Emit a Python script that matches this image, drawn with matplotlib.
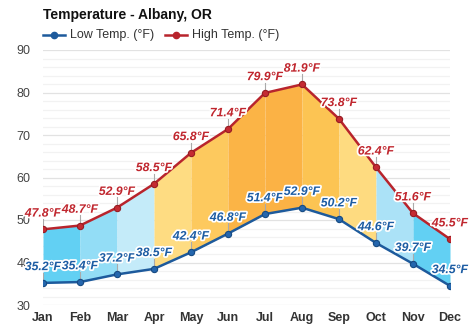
import matplotlib
matplotlib.use("Agg")
import matplotlib.pyplot as plt
import matplotlib.patheffects as pe
import numpy as np

months = ["Jan", "Feb", "Mar", "Apr", "May", "Jun", "Jul", "Aug", "Sep", "Oct", "Nov", "Dec"]
high = [47.8, 48.7, 52.9, 58.5, 65.8, 71.4, 79.9, 81.9, 73.8, 62.4, 51.6, 45.5]
low = [35.2, 35.4, 37.2, 38.5, 42.4, 46.8, 51.4, 52.9, 50.2, 44.6, 39.7, 34.5]
band_colors = ["#62d0f3", "#93ddf6", "#c4ebf9", "#fedc82", "#fdc95e", "#fbb446",
               "#fbb245", "#fcc453", "#fedb80", "#abe2f7", "#62d0f3"]

plt.rcParams["font.family"] = ["Liberation Sans", "DejaVu Sans"]

fig = plt.figure(figsize=(4.74, 3.31), dpi=100)
ax = fig.add_axes([43 / 474, 26 / 331, 407 / 474, 255 / 331])
x = np.arange(len(months))

# Horizontal grid: major every 10, minor every 2
for v in np.arange(30, 91, 2):
    major = v % 10 == 0
    ax.axhline(v, color="#e2e2e2" if major else "#f2f2f2", lw=0.9, zorder=0)

# Month-to-month coloured bands between low and high
for i in range(len(months) - 1):
    ax.fill_between(x[i:i + 2], low[i:i + 2], high[i:i + 2],
                    color=band_colors[i], lw=0, zorder=1)

ax.plot(x, low, color="#1d5a9c", lw=1.8, marker="o", ms=4.5,
        mfc="#2466ad", mec="#164a82", mew=0.8, zorder=4)
ax.plot(x, high, color="#b8242c", lw=1.8, marker="o", ms=4.5,
        mfc="#c52a32", mec="#961c22", mew=0.8, zorder=4)

halo = [pe.withStroke(linewidth=2.5, foreground="white")]
for xi, h, l in zip(x, high, low):
    for val, col in ((h, "#c0262e"), (l, "#1c5ca3")):
        ax.plot([xi, xi], [val, val + 2.4], color="#aaaaaa", lw=0.8, zorder=3)
        ax.text(xi, val + 2.3, f"{val}°F", ha="center", va="bottom",
                fontsize=8.8, fontweight="bold", fontstyle="italic",
                color=col, path_effects=halo, zorder=5)

ax.set_xlim(0, 11)
ax.set_ylim(30, 90)
ax.set_yticks(range(30, 91, 10))
ax.set_xticks(x)
ax.set_xticklabels(months, fontweight="bold", fontsize=9, color="#333333")
ax.tick_params(axis="y", labelsize=9, labelcolor="#444444", length=0, pad=9)
ax.tick_params(axis="x", length=0, pad=5)
for s in ax.spines.values():
    s.set_visible(False)
ax.set_facecolor("none")

fig.text(43 / 474, 1 - 15 / 331, "Temperature - Albany, OR", fontsize=10,
         fontweight="bold", va="center", ha="left", color="#111111")

# Legend row
ly = 1 - 35 / 331
for x0, col, txt in ((43, "#1d5a9c", "Low Temp. (°F)"), (165, "#b8242c", "High Temp. (°F)")):
    fig.add_artist(plt.Line2D([x0 / 474, (x0 + 22) / 474], [ly, ly], color=col, lw=1.8,
                              transform=fig.transFigure))
    fig.add_artist(plt.Line2D([(x0 + 11) / 474], [ly], color=col, marker="o", ms=4.5,
                              transform=fig.transFigure))
    fig.text((x0 + 27) / 474, ly, txt, fontsize=9, va="center", ha="left", color="#333333")

fig.savefig("out.png", dpi=100, facecolor="white")
